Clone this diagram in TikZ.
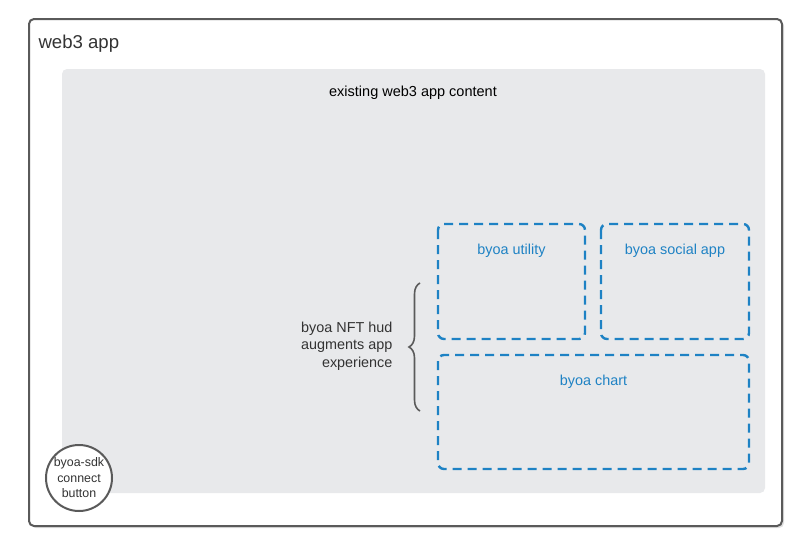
\documentclass[tikz,border=0pt]{standalone}
\usepackage{fontspec}
\setmainfont{Liberation Sans}
\usetikzlibrary{decorations.pathreplacing}
\definecolor{frame}{HTML}{5A5A5A}
\definecolor{panel}{HTML}{E8E9EB}
\definecolor{byoa}{HTML}{1E82C4}
\definecolor{txt}{HTML}{333333}
\tikzset{
  dbox/.style={draw=byoa, line width=2.4pt, rounded corners=6pt, dash pattern=on 9pt off 6pt},
  blab/.style={text=byoa, font=\fontsize{14.4}{17}\selectfont, anchor=center},
}
\begin{document}
\begin{tikzpicture}[x=1pt,y=-1pt]
\useasboundingbox (0,0) rectangle (800,554);
\fill[white] (0,0) rectangle (800,554);
% outer frame
\fill[black!12, rounded corners=5pt] (31,21) rectangle (784,528);
\draw[frame, line width=2pt, fill=white, rounded corners=5pt] (29,19) rectangle (782,526);
\node[anchor=west, text=txt, font=\fontsize{18.6}{22}\selectfont] (title) at (35,44) {web3 app};
% panel
\fill[panel, rounded corners=5pt] (62,69) rectangle (765,493);
\node[text=black, font=\fontsize{14.5}{17}\selectfont] (content) at (413,92.5) {existing web3 app content};
% dashed boxes
\draw[dbox] (438,224) rectangle (585,339);
\draw[dbox] (601,224) rectangle (749,339);
\draw[dbox] (438,355) rectangle (749,469);
\node[blab] (util) at (511.5,251) {byoa utility};
\node[blab] (social) at (675,251) {byoa social app};
\node[blab] (chart) at (593.5,382) {byoa chart};
% brace
\draw[frame, line width=1.6pt, decorate, decoration={brace, amplitude=11pt}] (420,411) -- (420,283);
\node[anchor=east, align=right, text=txt, font=\fontsize{14.4}{17.5}\selectfont] (hud) at (396,346) {byoa NFT hud\\augments app\\experience};
% connect button
\node[circle, draw=frame, line width=2pt, fill=white, minimum size=66pt, inner sep=0pt, align=center, text=txt, font=\fontsize{12.4}{15.5}\selectfont] (btn) at (79,478) {byoa-sdk\\connect\\button};
\end{tikzpicture}
\end{document}
